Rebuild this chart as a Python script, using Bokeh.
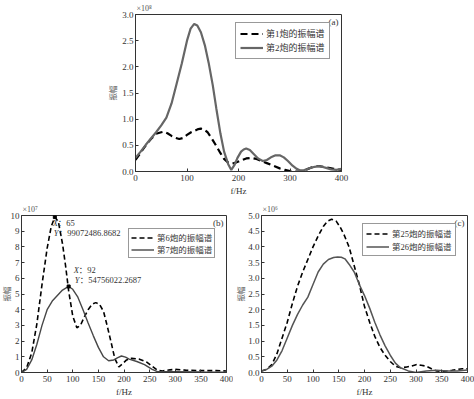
from bokeh.plotting import figure
from bokeh.layouts import column, row
from bokeh.models import Label, FixedTicker, PrintfTickFormatter, Legend, LegendItem, Range1d, Title
from bokeh.embed import file_html
from bokeh.resources import INLINE

# ---------------- data ----------------
# panel (a), amplitude in units of 1e8
fa1 = [0, 10, 20, 30, 40, 50, 55, 62, 70, 78, 85, 92, 100, 108, 115, 122, 127, 133, 140, 150, 158, 165, 172, 180, 187, 195, 205, 215, 225, 235, 245, 255, 265, 280, 290, 300, 310, 320, 328, 335, 343, 350, 358, 365, 375, 385, 392, 400]
a1 = [0.22, 0.36, 0.50, 0.62, 0.72, 0.75, 0.76, 0.73, 0.68, 0.64, 0.62, 0.64, 0.70, 0.75, 0.78, 0.81, 0.82, 0.80, 0.75, 0.60, 0.47, 0.35, 0.24, 0.17, 0.15, 0.17, 0.21, 0.25, 0.26, 0.24, 0.20, 0.16, 0.12, 0.06, 0.03, 0.01, 0.0, 0.0, 0.02, 0.05, 0.08, 0.10, 0.10, 0.09, 0.07, 0.05, 0.04, 0.03]
fa2 = [0, 10, 20, 30, 40, 50, 60, 70, 80, 90, 100, 107, 114, 120, 127, 135, 142, 150, 157, 165, 172, 180, 186, 192, 198, 205, 210, 215, 222, 230, 238, 247, 255, 263, 272, 280, 288, 296, 305, 313, 320, 325, 332, 340, 348, 355, 362, 370, 380, 390, 400]
a2 = [0.26, 0.38, 0.51, 0.63, 0.75, 0.88, 1.03, 1.30, 1.68, 2.07, 2.50, 2.73, 2.82, 2.79, 2.66, 2.40, 2.08, 1.65, 1.20, 0.72, 0.38, 0.14, 0.03, 0.12, 0.26, 0.38, 0.42, 0.44, 0.41, 0.33, 0.25, 0.20, 0.22, 0.27, 0.31, 0.31, 0.27, 0.20, 0.11, 0.05, 0.02, 0.02, 0.04, 0.07, 0.09, 0.10, 0.09, 0.07, 0.04, 0.03, 0.05]

# panel (b), amplitude in units of 1e7
fb1 = [0, 10, 20, 30, 40, 50, 58, 65, 72, 80, 86, 92, 100, 108, 115, 122, 130, 138, 145, 152, 160, 167, 175, 182, 190, 197, 205, 215, 230, 245, 255, 265, 275, 290, 300, 320, 350, 380, 400]
b1 = [0.0, 0.3, 1.25, 3.1, 5.6, 7.9, 9.3, 9.9, 9.6, 8.2, 6.8, 5.2, 3.6, 2.85, 3.0, 3.5, 4.0, 4.35, 4.45, 4.35, 3.9, 3.0, 1.9, 0.9, 0.35, 0.55, 0.8, 0.9, 0.85, 0.65, 0.4, 0.15, 0.1, 0.17, 0.2, 0.15, 0.12, 0.12, 0.1]
fb2 = [0, 10, 20, 30, 40, 50, 60, 70, 80, 92, 100, 110, 120, 130, 140, 150, 160, 170, 180, 188, 195, 203, 210, 225, 240, 255, 265, 280, 300, 350, 400]
b2 = [0.0, 0.2, 0.8, 1.8, 3.0, 4.0, 4.55, 4.9, 5.25, 5.48, 5.3, 4.8, 4.0, 3.15, 2.35, 1.6, 1.0, 0.75, 0.8, 0.95, 1.05, 0.98, 0.85, 0.7, 0.5, 0.2, 0.05, 0.05, 0.05, 0.03, 0.02]
peak_x = [65, 92]
peak_y = [9.9, 5.48]
peak_xtxt = ["：65", "：92"]
peak_ytxt = ["：99072486.8682", "：54756022.2687"]

# panel (c), amplitude in units of 1e6
fc1 = [0, 10, 20, 30, 40, 50, 60, 70, 80, 90, 100, 110, 120, 128, 136, 145, 153, 160, 170, 180, 190, 200, 210, 220, 230, 240, 250, 260, 270, 280, 290, 300, 310, 320, 330, 340, 350, 360, 370, 380, 390, 400]
c1 = [0.05, 0.1, 0.25, 0.6, 1.1, 1.6, 2.2, 2.75, 3.2, 3.6, 4.0, 4.35, 4.65, 4.82, 4.88, 4.82, 4.62, 4.4, 4.0, 3.4, 2.8, 2.1, 1.6, 1.15, 0.8, 0.55, 0.35, 0.2, 0.15, 0.17, 0.2, 0.25, 0.23, 0.2, 0.12, 0.05, 0.04, 0.05, 0.07, 0.1, 0.12, 0.12]
fc2 = [0, 10, 20, 30, 40, 50, 60, 70, 80, 90, 100, 110, 120, 130, 140, 148, 155, 162, 170, 180, 190, 200, 210, 220, 230, 240, 250, 260, 270, 285, 300, 320, 340, 360, 380, 400]
c2 = [0.05, 0.1, 0.2, 0.4, 0.7, 1.1, 1.5, 1.85, 2.15, 2.4, 2.8, 3.2, 3.45, 3.6, 3.66, 3.68, 3.67, 3.62, 3.45, 3.2, 2.8, 2.45, 2.05, 1.6, 1.2, 0.85, 0.55, 0.3, 0.15, 0.05, 0.0, 0.05, 0.07, 0.05, 0.05, 0.08]

xticks_a = [0, 100, 200, 300, 400]
xticks_bc = [0, 50, 100, 150, 200, 250, 300, 350, 400]
yticks_a = [0.0, 0.5, 1.0, 1.5, 2.0, 2.5, 3.0]
yticks_b = [0, 1, 2, 3, 4, 5, 6, 7, 8, 9, 10]
yticks_c = [0.0, 0.5, 1.0, 1.5, 2.0, 2.5, 3.0, 3.5, 4.0, 4.5, 5.0]

leg_a = ["第1炮的振幅谱", "第2炮的振幅谱"]
leg_b = ["第6炮的振幅谱", "第7炮的振幅谱"]
leg_c = ["第25炮的振幅谱", "第26炮的振幅谱"]

SERIF = "'Liberation Serif', 'Noto Sans CJK SC'"
CJK = "'Noto Sans CJK SC'"
TXT = "#333333"


def make_fig(w, h, ymax, xticks, yticks, yfmt, mb, exp_text, ylab_standoff):
    p = figure(width=w, height=h, output_backend="svg", toolbar_location=None,
               x_range=Range1d(0, 400), y_range=Range1d(0, ymax),
               min_border_left=mb[0], min_border_right=mb[1],
               min_border_top=mb[2], min_border_bottom=mb[3],
               title=Title(text=exp_text, align="left", offset=1, standoff=3,
                           text_font=SERIF, text_font_size="8px",
                           text_font_style="normal", text_color="#555555"))
    p.xgrid.visible = False
    p.ygrid.visible = False
    p.outline_line_color = "#333333"
    p.outline_line_width = 1
    p.background_fill_color = "white"
    p.border_fill_color = "white"
    for ax in (p.xaxis[0], p.yaxis[0]):
        ax.major_tick_in = 3
        ax.major_tick_out = 0
        ax.minor_tick_in = 0
        ax.minor_tick_out = 0
        ax.axis_line_color = "#333333"
        ax.major_tick_line_color = "#333333"
        ax.major_label_text_font = SERIF
        ax.major_label_text_font_size = "9px"
        ax.major_label_text_color = TXT
        ax.major_label_standoff = 3
    p.yaxis.major_label_standoff = 2
    p.xaxis.ticker = FixedTicker(ticks=xticks)
    p.yaxis.ticker = FixedTicker(ticks=yticks)
    p.yaxis.formatter = PrintfTickFormatter(format=yfmt)
    p.yaxis.axis_label = "振幅"
    p.yaxis.axis_label_text_font = CJK
    p.yaxis.axis_label_text_font_size = "7.5px"
    p.yaxis.axis_label_text_font_style = "normal"
    p.yaxis.axis_label_text_color = "#555555"
    p.yaxis.axis_label_standoff = ylab_standoff
    p.xaxis.axis_label = "f/Hz"
    p.xaxis.axis_label_text_font = SERIF
    p.xaxis.axis_label_text_font_size = "9px"
    p.xaxis.axis_label_text_font_style = "normal"
    p.xaxis.axis_label_text_color = TXT
    p.xaxis.axis_label_standoff = 2
    return p


def add_lines(p, xs1, ys1, xs2, ys2, labels, solid_color, lw_d, lw_s, dash, loc, fs, pad, sp):
    r1 = p.line(xs1, ys1, line_color="black", line_width=lw_d, line_dash=dash)
    r2 = p.line(xs2, ys2, line_color=solid_color, line_width=lw_s)
    leg = Legend(items=[LegendItem(label=labels[0], renderers=[r1]),
                        LegendItem(label=labels[1], renderers=[r2])],
                 location=loc)
    leg.label_text_font = SERIF
    leg.label_text_font_size = fs
    leg.label_text_color = TXT
    leg.glyph_width = 23
    leg.glyph_height = 9
    leg.label_height = 9
    leg.label_standoff = 3
    leg.spacing = sp
    leg.padding = pad
    leg.margin = 0
    leg.border_line_color = "#333333"
    leg.border_line_width = 1
    leg.background_fill_alpha = 1
    p.add_layout(leg)


def add_tag(p, ymax, tag):
    p.add_layout(Label(x=400, y=ymax, x_offset=-3, y_offset=-2, text=tag,
                       text_align="right", text_baseline="top", text_font=SERIF,
                       text_font_size="9px", text_color=TXT))


# ---------------- panel (a) ----------------
pa = make_fig(474, 198, 3.0, xticks_a, yticks_a, "%.1f", (135, 133, 13, 25), "×10⁸", 1)
add_lines(pa, fa1, a1, fa2, a2, leg_a, "#666666", 2.2, 2.2, "7 4", (100, 112), "9px", 4, 1)
add_tag(pa, 3.0, "(a)")

# ---------------- panel (b) ----------------
pb = make_fig(237, 201, 10, xticks_bc, yticks_b, "%d", (21, 8, 17, 24), "×10⁷", -4)
pb.margin = (0, 0, 0, -3)
add_lines(pb, fb1, b1, fb2, b2, leg_b, "#474747", 1.6, 1.4, "5 3", (107, 114), "8.5px", 2, 0)
add_tag(pb, 10, "(b)")
pb.scatter(peak_x, peak_y, marker="square", size=3, color="black")
for i in range(2):
    xo = -2 if i == 0 else 5
    yo1 = -6 if i == 0 else 16
    yo2 = -16 if i == 0 else 6
    pb.add_layout(Label(x=peak_x[i], y=peak_y[i], x_offset=xo, y_offset=yo1, text="X",
                        text_baseline="middle", text_font=SERIF, text_font_style="italic",
                        text_font_size="8.5px", text_color=TXT))
    pb.add_layout(Label(x=peak_x[i], y=peak_y[i], x_offset=xo + 5, y_offset=yo1, text=peak_xtxt[i],
                        text_baseline="middle", text_font=SERIF,
                        text_font_size="8.5px", text_color=TXT))
    pb.add_layout(Label(x=peak_x[i], y=peak_y[i], x_offset=xo + 1, y_offset=yo2, text="Y",
                        text_baseline="middle", text_font=SERIF, text_font_style="italic",
                        text_font_size="8.5px", text_color=TXT))
    pb.add_layout(Label(x=peak_x[i], y=peak_y[i], x_offset=xo + 6, y_offset=yo2, text=peak_ytxt[i],
                        text_baseline="middle", text_font=SERIF,
                        text_font_size="8.5px", text_color=TXT))

# ---------------- panel (c) ----------------
pc = make_fig(242, 201, 5.0, xticks_bc, yticks_c, "%.1f", (24, 7, 17, 24), "×10⁶", -1)
pc.margin = (0, 0, 0, -2)
add_lines(pc, fc1, c1, fc2, c2, leg_c, "#555555", 1.6, 1.5, "5 3", (101, 116), "8.5px", 3, 1)
add_tag(pc, 5.0, "(c)")

layout = column(pa, row(pb, pc))
open("out.html", "w").write(file_html(layout, INLINE))
